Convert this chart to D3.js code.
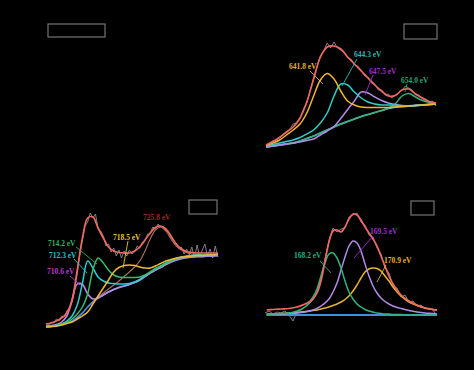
<!DOCTYPE html>
<html>
<head>
<meta charset="utf-8">
<script src="https://cdn.jsdelivr.net/npm/d3@7"></script>
<style>
  body { margin: 0; background: #000; }
  svg { display: block; }
</style>
</head>
<body>
<div id="chart"></div>
<script>
// ---------------------------------------------------------------------------
// DATA (intensities in arbitrary units)

// Mn 2p (top right)
var mnEnergy = [633, 634, 635, 636, 637, 638, 639, 640, 641, 642, 643, 644, 645,
                646, 647, 648, 649, 650, 651, 652, 653, 654, 655, 656, 657, 658];
var mnBg      = [3, 4, 5, 6, 7, 9, 11.5, 14, 17, 20, 23, 26, 28.5, 31, 33.5, 35.5,
                 37.5, 39.5, 41.5, 43, 43.5, 44, 44.5, 45, 45.5, 46];
var mn6418    = [4.5, 7, 10, 15, 20, 26, 37, 54, 70, 76.5, 71, 59, 49, 45, 43, 42.5,
                 42.5, 42.5, 42.5, 43, 43.5, 44, 44.5, 45, 45.5, 46];
var mn6443    = [4, 5.5, 7, 8.5, 10, 12.5, 16, 20, 27, 37, 54, 66, 65, 58, 52, 48,
                 46, 45, 45, 45, 44, 44, 44.5, 45, 45.5, 46];
var mn6475    = [3, 4, 5, 6, 7, 8, 9.5, 11, 15, 19, 23.5, 31.5, 40.5, 49, 58, 57,
                 53, 49.5, 47, 45.5, 44.5, 44, 44.5, 45, 45.5, 46];
var mn6540    = [3, 4, 5, 6, 7, 9, 11.5, 14, 17, 20, 23, 26, 28.5, 31, 33.5, 35.5,
                 37.5, 39.5, 42, 46, 54, 56.5, 53, 49.5, 47.5, 46.5];
var mnEnvelope = [5, 8.5, 12.5, 18, 23, 32, 48, 71, 93, 103, 104, 101, 93, 86, 79, 72,
                  65, 59, 54, 54.5, 60, 61, 56, 52, 48.5, 47];
var mnRawEnergy = [633, 633.5, 634, 634.5, 635, 635.5, 636, 636.5, 637, 637.5, 638, 638.5,
                   639, 639.5, 640, 640.5, 641, 641.5, 642, 642.5, 643, 643.5, 644, 644.5,
                   645, 645.5, 646, 646.5, 647, 647.5, 648, 648.5, 649, 649.5, 650, 650.5,
                   651, 651.5, 652, 652.5, 653, 653.5, 654, 654.5, 655, 655.5, 656, 656.5,
                   657, 657.5, 658];
var mnRaw = [5, 6, 9, 10, 13, 16, 17, 21, 26, 27, 31, 41, 47, 60, 72, 83, 94, 99, 107, 102,
             108, 102, 100, 98, 92, 91, 85, 84, 80, 74, 73, 67, 66, 60, 60, 55, 56, 52, 55,
             57, 60, 64, 62, 60, 55, 55, 51, 51, 48, 49, 44];

// Fe 2p (bottom left)
var feEnergy = [704, 705, 706, 707, 708, 709, 710, 711, 712, 713, 714, 715, 716, 717, 718,
                719, 720, 721, 722, 723, 724, 725, 726, 727, 728, 729, 730, 731, 732, 733,
                734, 735, 736, 737];
var feBg   = [3, 3.5, 4, 5, 7, 9, 12.5, 17, 23, 28, 32, 35, 38, 40.5, 42.5, 44, 45.5, 47.5,
              50, 53.5, 57, 60, 62.5, 65.5, 68, 70, 71.5, 72.5, 73, 73.5, 73.5, 74, 74, 74.5];
var fe7106 = [4, 4.5, 5.5, 8, 14, 29, 46, 45.5, 36, 31, 32, 35, 38, 40.5, 42.5, 44, 45.5,
              47.5, 50, 53.5, 57, 60, 62.5, 65.5, 68, 70, 71.5, 72.5, 73, 73.5, 73.5, 74, 74, 74.5];
var fe7123 = [3.5, 4, 4.5, 6, 9, 14, 25, 47, 69, 62, 53, 49, 47, 46.5, 46, 46, 46.5, 48,
              50.5, 54.5, 58, 61.5, 64, 67, 69.5, 71.5, 73, 74, 74.5, 75, 75, 75.5, 75.5, 76];
var fe7142 = [3, 3.5, 4.5, 6, 8, 11, 16, 23, 36, 60, 72, 67, 60, 55, 53, 52.5, 52.5, 52.5,
              53, 55, 58, 61, 63.5, 66.5, 69, 71, 72.5, 73.5, 74, 74.5, 74.5, 75, 75, 75.5];
var fe7185 = [3, 3.5, 4, 5, 6.5, 8, 11, 14, 18, 26, 34, 42, 50, 58, 62.5, 64.5, 65, 64.5,
              63, 62, 62, 64, 66.5, 69, 70.5, 72, 73, 73.5, 74, 74.5, 74.5, 75, 75, 75.5];
var fe7258 = [null, null, null, null, null, null, null, null, null, null, 33, 37, 41, 45,
              49, 53.5, 58, 63, 69, 79, 91, 100, 103, 99, 91, 84, 80, 77.5, 76, 75.5, 75, 75, 75, 75];
var feEnvelope = [6, 7, 9, 12, 17, 30, 60, 92, 112, 113, 102, 92, 83, 79, 77.5, 77, 77, 79,
                  83, 90, 97, 102.5, 104, 101, 94, 86, 81, 78.5, 77.5, 77, 77, 77, 77, 77];
var feRawEnergy = [704, 704.5, 705, 705.5, 706, 706.5, 707, 707.5, 708, 708.5, 709, 709.5,
                   710, 710.5, 711, 711.5, 712, 712.5, 713, 713.5, 714, 714.5, 715, 715.5,
                   716, 716.5, 717, 717.5, 718, 718.5, 719, 719.5, 720, 720.5, 721, 721.5,
                   722, 722.5, 723, 723.5, 724, 724.5, 725, 725.5, 726, 726.5, 727, 727.5,
                   728, 728.5, 729, 729.5, 730, 730.5, 731, 731.5, 732, 732.5, 733, 733.5,
                   734, 734.5, 735, 735.5, 736, 736.5, 737];
var feRaw = [7, 5, 8, 7, 11, 9, 14, 13, 19, 22, 31, 42, 56, 76, 90, 104, 108, 117, 112, 116,
             101, 99, 94, 84, 86, 78, 82, 74, 80, 72, 79, 74, 80, 76, 78, 84, 82, 88, 89, 96,
             96, 103, 101, 106, 103, 104, 99, 98, 92, 89, 87, 82, 83, 76, 81, 75, 83, 72, 85,
             73, 80, 86, 74, 81, 72, 84, 73];

// S 2p (bottom right)
var sEnergy = [164.1, 164.5, 165, 165.5, 166, 166.5, 167, 167.25, 167.5, 167.75, 168, 168.25,
               168.5, 168.75, 169, 169.25, 169.5, 169.75, 170, 170.25, 170.5, 170.75, 171,
               171.25, 171.5, 171.75, 172, 172.5, 173, 173.5, 174, 174.5, 174.75];
var sEnvelope = [6, 6.5, 7, 7.5, 9, 12, 17, 23, 35, 55, 74, 85, 86, 84, 89, 97, 102, 101, 96,
                 89, 83, 77, 70, 60, 50, 40, 32, 21, 15, 11, 8, 6.5, 6];
var s1682 = [1.5, 2, 2.5, 3, 5, 9, 19, 27, 40, 53, 62, 63, 58, 48, 35, 24, 17, 12, 9, 6.5,
             5, 4, 3, 2.5, 2, 2, 1.5, 1.5, 1, 1, 1, 1, 1];
var s1695 = [1.5, 2, 2, 2.5, 3, 4, 6, 7.5, 10, 13, 17, 24, 33, 46, 59, 70, 75, 73, 65, 52,
             40, 30, 23, 18, 14.5, 12, 10, 7.5, 5.5, 4, 3, 2.5, 2];
var s1709 = [2, 2, 2.5, 3, 3.5, 4.5, 5.5, 6, 7, 8, 9, 10.5, 12, 14, 16.5, 20, 25, 31, 38, 44,
             47, 48, 47.5, 45, 40, 35, 29, 20, 14, 10.5, 8, 6.5, 6];
var sBgEnergy = [164.1, 174.75];
var sBg = [1, 1];
var sRawEnergy = [164, 164.25, 164.5, 164.75, 165, 165.25, 165.5, 165.75, 166, 166.25, 166.5,
                  166.75, 167, 167.25, 167.5, 167.75, 168, 168.25, 168.5, 168.75, 169, 169.25,
                  169.5, 169.75, 170, 170.25, 170.5, 170.75, 171, 171.25, 171.5, 171.75, 172,
                  172.25, 172.5, 172.75, 173, 173.25, 173.5, 173.75, 174, 174.25, 174.5, 174.75];
var sRaw = [3, 5, 2, 4, 3, 5, 1, -5, 4, 6, 9, 12, 16, 24, 37, 57, 76, 88, 84, 87, 88, 99, 101,
            103, 94, 91, 81, 79, 68, 62, 48, 43, 30, 28, 19, 21, 14, 15, 10, 11, 7, 8, 6, 0];

// ---------------------------------------------------------------------------
// DRAWING

var W = 474, H = 370;
var font = "'Liberation Serif', 'Times New Roman', serif";

var svg = d3.select("#chart")
  .append("svg")
    .attr("width", W)
    .attr("height", H);

svg.append("rect")
    .attr("width", W)
    .attr("height", H)
    .attr("fill", "#000");

// panel tag frames (a) (b) (c) (d)
var tagBoxes = [[48, 24, 57, 13], [404, 24, 33, 15], [189, 200, 28, 14], [411, 201, 23, 14]];
svg.selectAll(".tag")
    .data(tagBoxes)
  .enter()
    .append("rect")
    .attr("class", "tag")
    .attr("x", function(d) { return d[0]; })
    .attr("y", function(d) { return d[1]; })
    .attr("width", function(d) { return d[2]; })
    .attr("height", function(d) { return d[3]; })
    .attr("fill", "none")
    .attr("stroke", "#747474")
    .attr("stroke-width", 1.2);

function drawPanel(p) {
  var x = d3.scaleLinear().domain(p.xDomain).range(p.xRange);
  var y = d3.scaleLinear().domain(p.yDomain).range(p.yRange);
  var g = svg.append("g");

  p.series.forEach(function(s) {
    var line = d3.line()
      .defined(function(d) { return d[1] !== null; })
      .x(function(d) { return x(d[0]); })
      .y(function(d) { return y(d[1]); })
      .curve(s.raw ? d3.curveLinear : d3.curveCatmullRom.alpha(0.5));
    g.append("path")
      .datum(d3.zip(s.x, s.y))
      .attr("d", line)
      .attr("fill", "none")
      .attr("stroke", s.color)
      .attr("stroke-width", s.width || 1.5)
      .attr("stroke-linejoin", "round");
  });

  p.labels.forEach(function(l) {
    if (l.from) {
      g.append("line")
        .attr("x1", l.from[0]).attr("y1", l.from[1])
        .attr("x2", l.to[0]).attr("y2", l.to[1])
        .attr("stroke", l.color)
        .attr("stroke-width", 0.9);
    }
    g.append("text")
      .attr("x", l.at[0])
      .attr("y", l.at[1])
      .attr("fill", l.color)
      .attr("font-family", font)
      .attr("font-weight", "bold")
      .attr("font-size", "7.5px")
      .text(l.text);
  });
}

// Mn 2p
drawPanel({
  xDomain: [633, 658], xRange: [266, 436],
  yDomain: [0, 110], yRange: [150, 40],
  series: [
    {x: mnRawEnergy, y: mnRaw, color: "#8c8c8c", width: 0.9, raw: true},
    {x: mnEnergy, y: mnBg, color: "#5ab6e8", width: 1.8},
    {x: mnEnergy, y: mn6540, color: "#34b07a"},
    {x: mnEnergy, y: mn6475, color: "#b48ae6"},
    {x: mnEnergy, y: mn6443, color: "#2ccfc4"},
    {x: mnEnergy, y: mn6418, color: "#f0b430"},
    {x: mnEnergy, y: mnEnvelope, color: "#ee6860", width: 1.7}
  ],
  labels: [
    {text: "641.8 eV", color: "#e4b024", at: [289, 68.5], from: [310, 71], to: [323, 84]},
    {text: "644.3 eV", color: "#22bdb2", at: [354, 57], from: [357, 59], to: [342, 86]},
    {text: "647.5 eV", color: "#a02ed0", at: [369, 73.5], from: [373, 75], to: [365, 95]},
    {text: "654.0 eV", color: "#22a474", at: [401, 83], from: [407, 84], to: [405, 92]}
  ]
});

// Fe 2p
drawPanel({
  xDomain: [704, 737], xRange: [46, 217.9],
  yDomain: [0, 120], yRange: [330, 210],
  series: [
    {x: feRawEnergy, y: feRaw, color: "#8c8c8c", width: 0.9, raw: true},
    {x: feEnergy, y: feBg, color: "#4b86d8", width: 1.8},
    {x: feEnergy, y: fe7258, color: "#a8725e", width: 1.1},
    {x: feEnergy, y: fe7106, color: "#c08ae8"},
    {x: feEnergy, y: fe7123, color: "#2ccfd0"},
    {x: feEnergy, y: fe7142, color: "#3cba6a"},
    {x: feEnergy, y: fe7185, color: "#f0b830"},
    {x: feEnergy, y: feEnvelope, color: "#ee6860", width: 1.7}
  ],
  labels: [
    {text: "725.8 eV", color: "#9a2a2a", at: [143, 220]},
    {text: "718.5 eV", color: "#e8c040", at: [113, 239.5], from: [128, 241], to: [123, 268]},
    {text: "714.2 eV", color: "#30b060", at: [48, 246], from: [76, 247], to: [97, 264]},
    {text: "712.3 eV", color: "#22c4cc", at: [49, 258], from: [74, 259], to: [87, 273]},
    {text: "710.6 eV", color: "#b040d0", at: [47, 274], from: [70, 276], to: [80, 285]}
  ]
});

// S 2p
drawPanel({
  xDomain: [164, 175], xRange: [265, 441],
  yDomain: [0, 110], yRange: [316, 206],
  series: [
    {x: sRawEnergy, y: sRaw, color: "#8c8c8c", width: 0.9, raw: true},
    {x: sBgEnergy, y: sBg, color: "#3f8fd8", width: 1.8},
    {x: sEnergy, y: s1709, color: "#e8b428"},
    {x: sEnergy, y: s1695, color: "#b48ae6"},
    {x: sEnergy, y: s1682, color: "#2fb57c"},
    {x: sEnergy, y: sEnvelope, color: "#ee6860", width: 1.7}
  ],
  labels: [
    {text: "168.2 eV", color: "#22b07e", at: [294, 258], from: [320, 261], to: [331, 273]},
    {text: "169.5 eV", color: "#a02ed0", at: [370, 233.5], from: [373, 236], to: [354, 258]},
    {text: "170.9 eV", color: "#e4b024", at: [384, 262.5], from: [386, 265], to: [377, 282]}
  ]
});
</script>
</body>
</html>
